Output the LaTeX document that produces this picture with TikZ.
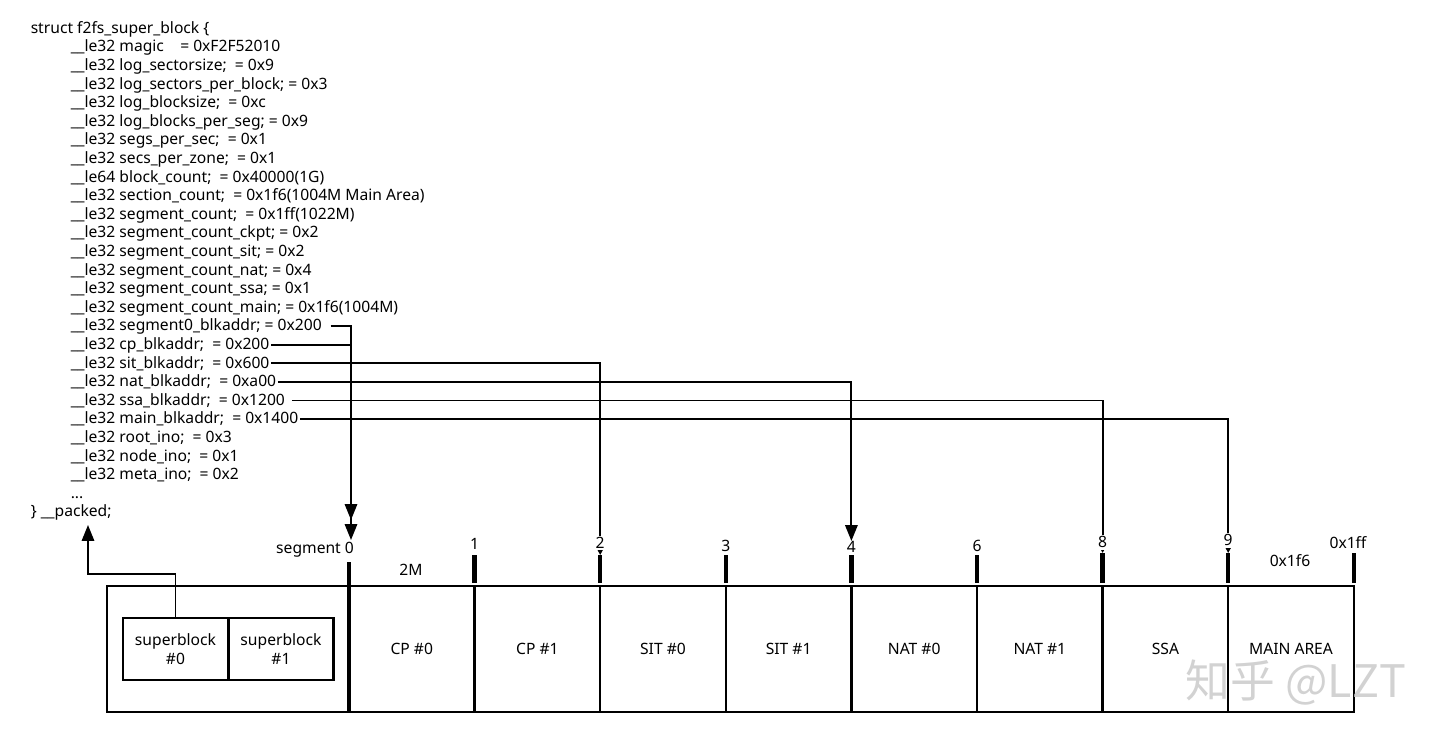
\documentclass[tikz,border=0pt]{standalone}
\usepackage{fontspec}
\setmainfont{Noto Sans}
\newfontfamily\cjkfont{Noto Sans CJK SC}
\usetikzlibrary{arrows.meta}

\begin{document}
\begin{tikzpicture}[x=0.02cm, y=-0.02cm,
		field/.style={anchor=mid west, inner sep=1pt, outer sep=0pt, font=\fontsize{8.9}{10}\selectfont},
		lbl/.style={inner sep=1pt, font=\fontsize{8.9}{10}\selectfont},
		cell/.style={draw, line width=1.4pt, minimum width=2.512cm, minimum height=2.52cm, font=\fontsize{8.9}{10}\selectfont},
		sbcell/.style={draw, line width=1.2pt, minimum width=2.1cm, minimum height=1.24cm, align=center, inner sep=1pt, font=\fontsize{8.9}{10.5}\selectfont},
		segtick/.style={line width=2.6pt},
		ptr/.style={line width=1.1pt, -{Triangle[length=9pt, width=7pt]}},
		thinptr/.style={line width=1.1pt, -{Triangle[length=3pt, width=3pt]}}]
		\useasboundingbox (0,0) rectangle (1440,741);
		
		% the struct, one node per line
		\node[field] (sbhead) at (29,28.5) {struct f2fs\_super\_block \{};
		\node[field] (magic) at (69,47.1) {\_\_le32 magic\ \ \ \ = 0xF2F52010};
		\node[field] (logsecsz) at (69,65.7) {\_\_le32 log\_sectorsize;\ \ = 0x9};
		\node[field] (logsecblk) at (69,84.3) {\_\_le32 log\_sectors\_per\_block; = 0x3};
		\node[field] (logblksz) at (69,102.9) {\_\_le32 log\_blocksize;\ \ = 0xc};
		\node[field] (logblkseg) at (69,121.5) {\_\_le32 log\_blocks\_per\_seg; = 0x9};
		\node[field] (segsec) at (69,140.1) {\_\_le32 segs\_per\_sec;\ \ = 0x1};
		\node[field] (seczone) at (69,158.7) {\_\_le32 secs\_per\_zone;\ \ = 0x1};
		\node[field] (blkcnt) at (69,177.3) {\_\_le64 block\_count;\ \ = 0x40000(1G)};
		\node[field] (seccnt) at (69,195.9) {\_\_le32 section\_count;\ \ = 0x1f6(1004M Main Area)};
		\node[field] (segcnt) at (69,214.5) {\_\_le32 segment\_count;\ \ = 0x1ff(1022M)};
		\node[field] (segckpt) at (69,233.1) {\_\_le32 segment\_count\_ckpt; = 0x2};
		\node[field] (segsit) at (69,251.7) {\_\_le32 segment\_count\_sit; = 0x2};
		\node[field] (segnat) at (69,270.3) {\_\_le32 segment\_count\_nat; = 0x4};
		\node[field] (segssa) at (69,288.9) {\_\_le32 segment\_count\_ssa; = 0x1};
		\node[field] (segmain) at (69,307.5) {\_\_le32 segment\_count\_main; = 0x1f6(1004M)};
		\node[field] (seg0addr) at (69,326.1) {\_\_le32 segment0\_blkaddr; = 0x200};
		\node[field] (cpaddr) at (69,344.7) {\_\_le32 cp\_blkaddr;\ \ = 0x200};
		\node[field] (sitaddr) at (69,363.3) {\_\_le32 sit\_blkaddr;\ \ = 0x600};
		\node[field] (nataddr) at (69,381.9) {\_\_le32 nat\_blkaddr;\ \ = 0xa00};
		\node[field] (ssaaddr) at (69,400.5) {\_\_le32 ssa\_blkaddr;\ \ = 0x1200};
		\node[field] (mainaddr) at (69,419.1) {\_\_le32 main\_blkaddr;\ \ = 0x1400};
		\node[field] (rootino) at (69,437.7) {\_\_le32 root\_ino;\ \ = 0x3};
		\node[field] (nodeino) at (69,456.3) {\_\_le32 node\_ino;\ \ = 0x1};
		\node[field] (metaino) at (69,474.9) {\_\_le32 meta\_ino;\ \ = 0x2};
		\node[field] (dots) at (69,493.5) {...};
		\node[field] (packed) at (29,512.1) {\} \_\_packed;};
		
		% disk layout
		\draw[line width=1.4pt] (107,586) rectangle (1353.8,712);
		\node[sbcell] (sb0) at (175.5,649) {superblock\\\#0};
		\node[sbcell] (sb1) at (281,649) {superblock\\\#1};
		\node[cell] (cp0) at (411.8,649) {CP \#0};
		\node[cell] (cp1) at (537.4,649) {CP \#1};
		\node[cell] (sit0) at (663,649) {SIT \#0};
		\node[cell] (sit1) at (788.6,649) {SIT \#1};
		\node[cell] (nat0) at (914.2,649) {NAT \#0};
		\node[cell] (nat1) at (1039.8,649) {NAT \#1};
		\node[cell] (ssa) at (1165.4,649) {SSA};
		\node[cell] (main) at (1291,649) {MAIN AREA};
		\draw[line width=2.4pt] (349,562) -- (349,712);
		
		% segment ticks
		\coordinate (t1) at (474.6,555);
		\coordinate (t2) at (600.2,555);
		\coordinate (t3) at (725.8,555);
		\coordinate (t4) at (851.4,555);
		\coordinate (t6) at (977,555);
		\coordinate (t8) at (1102.6,553);
		\coordinate (t9) at (1228.2,553);
		\coordinate (tf) at (1353.8,553);
		\foreach \t in {t1,t2,t3,t4,t6,t8,t9,tf}
			\draw[segtick] (\t) -- (\t |- 0,583);
		
		% pointers
		\coordinate (a0) at (351,540);
		\coordinate (a0b) at (351,520);
		\coordinate (a4) at (851.4,541);
		\coordinate (pk) at (88,525);
		\draw[ptr] ([xshift=4pt]seg0addr.mid east) -| (a0);
		\draw[ptr] (cpaddr.mid east) -| (a0b);
		\draw[thinptr] (sitaddr.mid east) -| (t2);
		\draw[ptr] (nataddr.mid east) -| (a4);
		\draw[thinptr] ([xshift=3pt]ssaaddr.mid east) -| (t8);
		\draw[thinptr] (mainaddr.mid east) -| (t9);
		\draw[ptr] (sb0.north) |- (88,574) -- (pk);
		
		% tick labels
		\node[lbl, anchor=east] (lseg0) at (356,550) {segment 0};
		\node[lbl] (l1) at (474.6,544) {1};
		\node[lbl, fill=white] (l2) at (600.2,543) {2};
		\node[lbl] (l3) at (725.8,546) {3};
		\node[lbl] (l4) at (851.4,547) {4};
		\node[lbl] (l6) at (977,546) {6};
		\node[lbl, fill=white] (l8) at (1102.6,542) {8};
		\node[lbl, fill=white] (l9) at (1228.2,540) {9};
		\node[lbl] (lf) at (1348,543) {0x1ff};
		\node[lbl] (lmain) at (1290,561) {0x1f6};
		\node[lbl] (lsize) at (411,570) {2M};
		
		\node[text=gray!35, font=\cjkfont\fontsize{25.5}{28}\selectfont] (mark) at (1296,683) {知乎 @LZT};
	\end{tikzpicture}
\end{document}
